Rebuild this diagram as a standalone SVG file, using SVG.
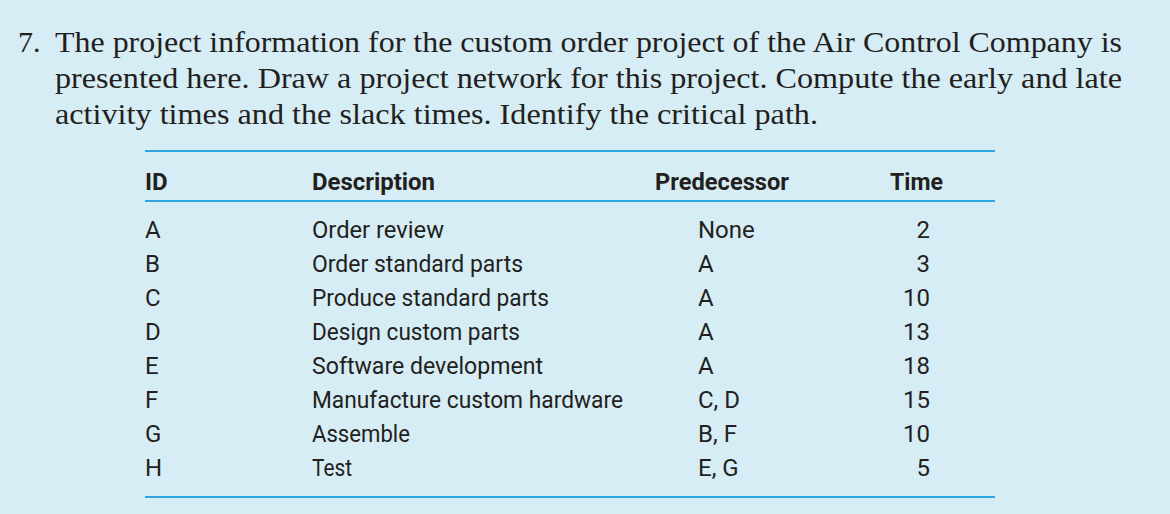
<svg xmlns="http://www.w3.org/2000/svg" width="1170" height="514" viewBox="0 0 1170 514">
<style>
.t{font-family:"Liberation Serif",serif;font-size:30px;fill:#231f20}
.c{font-family:Roboto,"Liberation Sans",sans-serif;font-size:24px;fill:#231f20}
.h{font-family:Roboto,"Liberation Sans",sans-serif;font-size:24px;font-weight:bold;fill:#231f20}
.r{text-anchor:end}
line{stroke:#2ea6de;stroke-width:2}
</style>
<rect width="1170" height="514" fill="#d6edf5"/>
<text class="t" x="18" y="52">7.</text>
<text class="t" x="55" y="52" textLength="1067" lengthAdjust="spacingAndGlyphs">The project information for the custom order project of the Air Control Company is</text>
<text class="t" x="55" y="88" textLength="1067" lengthAdjust="spacingAndGlyphs">presented here. Draw a project network for this project. Compute the early and late</text>
<text class="t" x="55" y="124" textLength="763" lengthAdjust="spacingAndGlyphs">activity times and the slack times. Identify the critical path.</text>
<line x1="145" y1="151" x2="995" y2="151"/>
<line x1="145" y1="201" x2="995" y2="201"/>
<line x1="145" y1="497" x2="995" y2="497"/>
<text class="h" x="145" y="190">ID</text>
<text class="h" x="312" y="190" textLength="123" lengthAdjust="spacingAndGlyphs">Description</text>
<text class="h" x="655" y="190" textLength="134" lengthAdjust="spacingAndGlyphs">Predecessor</text>
<text class="h" x="890" y="190" textLength="53" lengthAdjust="spacingAndGlyphs">Time</text>
<g class="c">
<text class="c" x="145" y="238">A</text><text class="c" x="312" y="238" textLength="132" lengthAdjust="spacingAndGlyphs">Order review</text><text class="c" x="698" y="238">None</text><text class="c r" x="930" y="238">2</text>
<text class="c" x="145" y="272">B</text><text class="c" x="312" y="272" textLength="211" lengthAdjust="spacingAndGlyphs">Order standard parts</text><text class="c" x="698" y="272">A</text><text class="c r" x="930" y="272">3</text>
<text class="c" x="145" y="306">C</text><text class="c" x="312" y="306" textLength="237" lengthAdjust="spacingAndGlyphs">Produce standard parts</text><text class="c" x="698" y="306">A</text><text class="c r" x="930" y="306">10</text>
<text class="c" x="145" y="340">D</text><text class="c" x="312" y="340" textLength="208" lengthAdjust="spacingAndGlyphs">Design custom parts</text><text class="c" x="698" y="340">A</text><text class="c r" x="930" y="340">13</text>
<text class="c" x="145" y="374">E</text><text class="c" x="312" y="374" textLength="231" lengthAdjust="spacingAndGlyphs">Software development</text><text class="c" x="698" y="374">A</text><text class="c r" x="930" y="374">18</text>
<text class="c" x="145" y="408">F</text><text class="c" x="312" y="408" textLength="311" lengthAdjust="spacingAndGlyphs">Manufacture custom hardware</text><text class="c" x="698" y="408">C, D</text><text class="c r" x="930" y="408">15</text>
<text class="c" x="145" y="442">G</text><text class="c" x="312" y="442" textLength="98" lengthAdjust="spacingAndGlyphs">Assemble</text><text class="c" x="698" y="442">B, F</text><text class="c r" x="930" y="442">10</text>
<text class="c" x="145" y="476">H</text><text class="c" x="312" y="476" textLength="40" lengthAdjust="spacingAndGlyphs">Test</text><text class="c" x="698" y="476">E, G</text><text class="c r" x="930" y="476">5</text>
</g>
</svg>
